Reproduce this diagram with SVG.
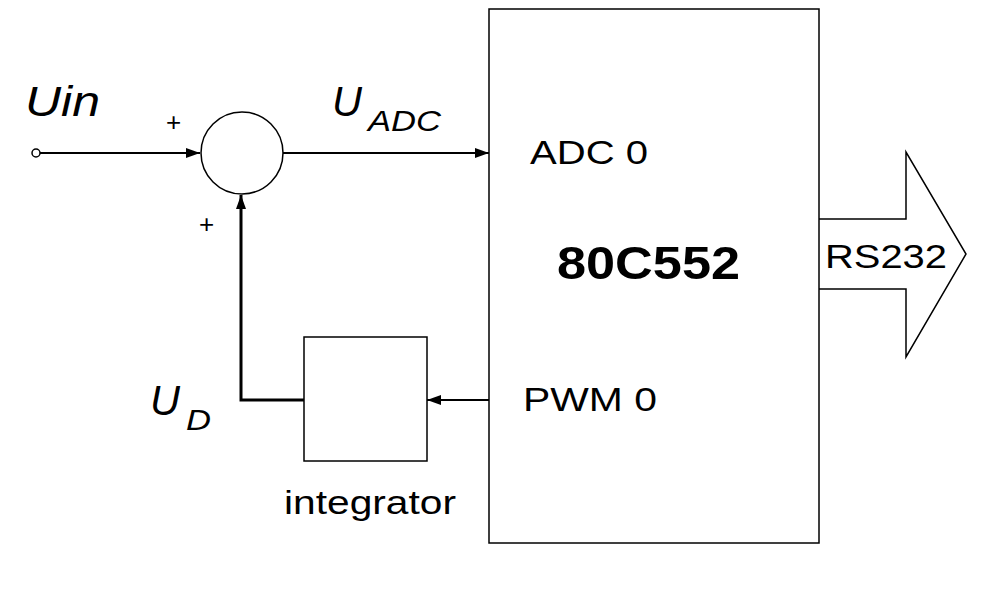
<svg xmlns="http://www.w3.org/2000/svg" width="994" height="607" viewBox="0 0 994 607">
<style>
.s{fill:none;stroke:#000;stroke-width:2}
.t{font-family:"Liberation Sans",Arial,sans-serif;fill:#000}
.i{font-style:italic}
</style>
<defs><marker id="a" markerWidth="14" markerHeight="10" refX="14" refY="5" orient="auto" markerUnits="userSpaceOnUse"><path d="M0,0 L14,5 L0,10 Z" fill="#000"/></marker></defs>
<rect width="994" height="607" fill="#fff"/>
<g id="connectors">
<line class="s" x1="40" y1="153" x2="200" y2="153" marker-end="url(#a)"/>
<line class="s" x1="283" y1="153" x2="489" y2="153" marker-end="url(#a)"/>
<line class="s" x1="489" y1="400" x2="427" y2="400" marker-end="url(#a)"/>
<polyline class="s" style="stroke-width:3" points="304,400 241,400 241,195" marker-end="url(#a)"/>
</g>
<g id="input"><circle class="s" cx="36" cy="153" r="4" style="stroke-width:1.5"/><text class="t i" x="25" y="116" font-size="42" textLength="75" lengthAdjust="spacingAndGlyphs">Uin</text></g>
<g id="sum"><circle class="s" cx="242" cy="153" r="41" style="stroke-width:1.5"/><text class="t" x="166" y="131" font-size="26">+</text><text class="t" x="199" y="233" font-size="26">+</text></g>
<g id="uadc"><text class="t i" x="332" y="116" font-size="42" textLength="30" lengthAdjust="spacingAndGlyphs">U</text><text class="t i" x="368" y="131" font-size="30" textLength="73" lengthAdjust="spacingAndGlyphs">ADC</text></g>
<g id="mcu"><rect class="s" x="489" y="9" width="330" height="534" style="stroke-width:1.5"/>
<text class="t" x="530" y="164" font-size="34" textLength="118" lengthAdjust="spacingAndGlyphs">ADC 0</text>
<text class="t" x="557" y="279" font-size="46" font-weight="bold" textLength="183" lengthAdjust="spacingAndGlyphs">80C552</text>
<text class="t" x="523" y="411" font-size="34" textLength="134" lengthAdjust="spacingAndGlyphs">PWM 0</text></g>
<g id="rs232"><path class="s" style="stroke-width:1.5" d="M819,219 H906 V152 L966,254 L906,357 V289 H819"/><text class="t" x="825" y="268" font-size="34" textLength="122" lengthAdjust="spacingAndGlyphs">RS232</text></g>
<g id="integrator"><rect class="s" x="304" y="337" width="123" height="124" style="stroke-width:1.5"/><text class="t" x="284" y="514" font-size="34" textLength="172" lengthAdjust="spacingAndGlyphs">integrator</text></g>
<g id="ud"><text class="t i" x="150" y="415" font-size="42" textLength="30" lengthAdjust="spacingAndGlyphs">U</text><text class="t i" x="186" y="430" font-size="30" textLength="25" lengthAdjust="spacingAndGlyphs">D</text></g>
</svg>
